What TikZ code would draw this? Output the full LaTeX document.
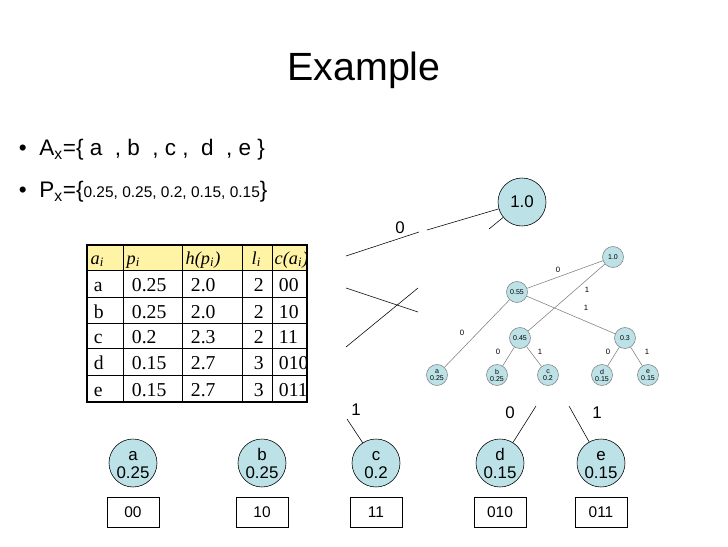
\documentclass[tikz,border=0pt]{standalone}
\usepackage{fontspec}
\setmainfont{Liberation Sans}
\newfontfamily\tabfont{Liberation Serif}
\definecolor{nodeblue}{HTML}{BCE1E6}
\definecolor{headyellow}{HTML}{FFF3A6}
\tikzset{
  big/.style={circle, draw, fill=nodeblue, minimum size=48*0.025cm, inner sep=0pt, align=center, font=\fontsize{12}{13}\selectfont},
  small/.style={circle, draw=gray, fill=nodeblue, minimum size=21*0.025cm, inner sep=0pt, align=center, font=\fontsize{5}{5}\selectfont},
  code/.style={draw, minimum width=52*0.025cm, minimum height=30*0.025cm, font=\fontsize{11}{12}\selectfont},
  cell/.style={font=\tabfont\fontsize{14}{14}\selectfont, anchor=base west},
  lab/.style={font=\fontsize{12}{12}\selectfont},
  slab/.style={font=\fontsize{5.5}{6}\selectfont},
}
\begin{document}
\begin{tikzpicture}[x=0.025cm, y=-0.025cm]
    \useasboundingbox (0,0) rectangle (728,546);
    \node[font=\fontsize{28}{30}\selectfont] (title) at (364,70) {Example};
    \node[anchor=west, font=\fontsize{16}{17}\selectfont] (ax) at (14,150) {\textbullet\ \ A$_{\mathrm{x}}$=\{ a \ , b \ , c , \ d \ , e \}};
    \node[anchor=west, font=\fontsize{16}{17}\selectfont] (px) at (14,192) {\textbullet\ \ P$_{\mathrm{x}}$=\{{\fontsize{11}{12}\selectfont 0.25, 0.25, 0.2, 0.15, 0.15}\}};
    % big tree, partly hidden
    \node[big] (root) at (522,202) {1.0};
    \coordinate (r0a) at (346,256);
    \coordinate (r0b) at (419,232);
    \coordinate (r0c) at (427,230);
    \coordinate (r1) at (489,229);
    \draw (r0a) -- (r0b);
    \draw (r0c) -- (root);
    \draw (root) -- (r1);
    \node[lab] (l0) at (400,228) {0};
    \coordinate (xa) at (346,288);
    \coordinate (xb) at (418,312);
    \coordinate (xc) at (346,347);
    \coordinate (xd) at (418,288);
    \draw (xa) -- (xb);
    \draw (xc) -- (xd);
    % leaves
    \foreach \n/\p/\x/\c in {a/0.25/133/00, b/0.25/262/10, c/0.2/376/11, d/0.15/500/010, e/0.15/601/011}{
        \node[big] (\n) at (\x,463) {\strut\n\\\p};
        \node[code] (code\n) at (\x,512) {\c};
    }
    \coordinate (cc) at (347,419);
    \coordinate (dd) at (536,406);
    \coordinate (ee) at (569,406);
    \draw (cc) -- (c);
    \draw (dd) -- (d);
    \draw (ee) -- (e);
    \node[lab] (l1) at (356,410) {1};
    \node[lab] (l2) at (510,413) {0};
    \node[lab] (l3) at (597,413) {1};
    % table
    \fill[headyellow] (87,245) rectangle (307,270);
    \draw[line width=1.2pt] (87,245) rectangle (307,402);
    \foreach \x in {123,182,242,272} \draw (\x,245) -- (\x,402);
    \foreach \y in {270,297,323,348,375} \draw (87,\y) -- (307,\y);
    \foreach \t/\x in {a\textsubscript{i}/89,p\textsubscript{i}/125,h(p\textsubscript{i})/184,l\textsubscript{i}/250,c(a\textsubscript{i})/273}
        \node[cell, inner sep=1pt, font=\tabfont\itshape\fontsize{13}{13}\selectfont] at (\x,264) {\t};
    \foreach \r/\y in {{a/0.25/2.0/2/00}/291, {b/0.25/2.0/2/10}/318, {c/0.2/2.3/2/11}/343, {d/0.15/2.7/3/010}/369, {e/0.15/2.7/3/011}/396}{
        \foreach \s/\p/\h/\l/\cc in \r {
            \node[cell] at (89,\y) {\s};
            \node[cell] at (127,\y) {\p};
            \node[cell] at (186,\y) {\h};
            \node[cell] at (249,\y) {\l};
            \node[cell] at (274,\y) {\cc};
        }
    }
    % small tree
    \node[small] (s10) at (613,257) {1.0};
    \node[small] (s55) at (517,292) {0.55};
    \node[small] (s45) at (520,338) {0.45};
    \node[small] (s3) at (625,338) {0.3};
    \foreach \n/\p/\x in {a/0.25/437, b/0.25/497, c/0.2/548, d/0.15/602, e/0.15/648}
        \node[small] (s\n) at (\x,375) {\strut\n\\\p};
    \draw[gray] (s10) -- (s55);
    \draw[gray] (s10) -- (s45);
    \draw[gray] (s55) -- (s3);
    \draw[gray] (s55) -- (sa);
    \draw[gray] (s45) -- (sb);
    \draw[gray] (s45) -- (sc);
    \draw[gray] (s3) -- (sd);
    \draw[gray] (s3) -- (se);
    \node[slab] at (558,270) {0};
    \node[slab] at (587,290) {1};
    \node[slab] at (586,308) {1};
    \node[slab] at (462,333) {0};
    \node[slab] at (498,352) {0};
    \node[slab] at (540,352) {1};
    \node[slab] at (608,352) {0};
    \node[slab] at (647,352) {1};
\end{tikzpicture}
\end{document}
